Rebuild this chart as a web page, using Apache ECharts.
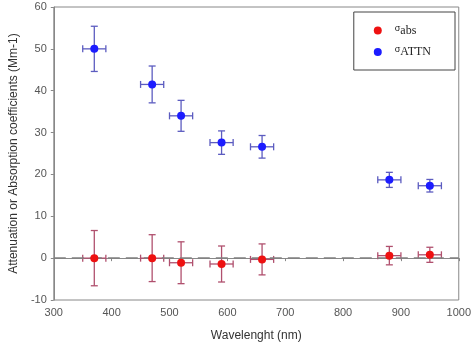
<!DOCTYPE html>
<html>
<head>
<meta charset="utf-8">
<script src="https://cdn.jsdelivr.net/npm/echarts@6/dist/echarts.min.js"></script>
<style>
  html, body { margin: 0; padding: 0; background: #fff; }
  #div-chart { width: 474px; height: 351px; }
</style>
</head>
<body>
<div id="div-chart"></div>
<script>
// wavelengths (nm)
var wavelengths = [370, 470, 520, 590, 660, 880, 950];
var xErr = [20, 20, 20, 20, 20, 20, 20];

// attenuation (blue)
var attn = [50, 41.5, 34, 27.6, 26.6, 18.7, 17.3];
var attnErr = [5.4, 4.4, 3.7, 2.8, 2.7, 1.8, 1.5];

// absorption (red)
var abs = [0, 0, -1.1, -1.4, -0.3, 0.6, 0.8];
var absErr = [6.6, 5.6, 5.0, 4.3, 3.7, 2.2, 1.8];

var myChart = echarts.init(document.getElementById('div-chart'));

function pairs(ys) {
    return wavelengths.map(function (w, i) { return [w, ys[i]]; });
}
function errData(ys, es) {
    return wavelengths.map(function (w, i) { return [w, ys[i], xErr[i], es[i]]; });
}

// draws the cross shaped error bars with caps
function errRender(color) {
    return function (params, api) {
        var x = api.value(0), y = api.value(1), dx = api.value(2), dy = api.value(3);
        var c = api.coord([x, y]);
        var top = api.coord([x, y + dy]), bot = api.coord([x, y - dy]);
        var lft = api.coord([x - dx, y]), rgt = api.coord([x + dx, y]);
        var cap = 3.5;
        var st = { stroke: color, lineWidth: 1.3 };
        var seg = function (x1, y1, x2, y2) {
            return { type: 'line', shape: { x1: x1, y1: y1, x2: x2, y2: y2 }, style: st };
        };
        return {
            type: 'group',
            children: [
                seg(c[0], top[1], c[0], bot[1]),
                seg(c[0] - cap, top[1], c[0] + cap, top[1]),
                seg(c[0] - cap, bot[1], c[0] + cap, bot[1]),
                seg(lft[0], c[1], rgt[0], c[1]),
                seg(lft[0], c[1] - cap, lft[0], c[1] + cap),
                seg(rgt[0], c[1] - cap, rgt[0], c[1] + cap)
            ]
        };
    };
}

var font = 'Liberation Sans, Arial, sans-serif';

option = {
    animation: false,
    backgroundColor: '#fff',
    grid: {
        left: 52, top: 7, right: 13, bottom: 51,
        show: true, borderColor: '#888', borderWidth: 1
    },
    legend: {
        data: ['abs', 'ATTN'],
        orient: 'vertical',
        right: 19, top: 12,
        borderColor: '#444', borderWidth: 1,
        padding: [12, 24, 12, 20],
        itemGap: 9,
        icon: 'circle',
        itemWidth: 8, itemHeight: 8,
        formatter: function (n) { return '{s|σ}{t|' + n + '}'; },
        textStyle: {
            fontFamily: font,
            color: '#222',
            rich: {
                s: { fontSize: 9, verticalAlign: 'top', padding: [0, 0, 4, 8], fontFamily: font, color: '#222' },
                t: { fontSize: 12, fontFamily: 'Liberation Serif, serif', color: '#222' }
            }
        }
    },
    xAxis: {
        type: 'value',
        min: 300, max: 1000, interval: 100,
        name: 'Wavelenght (nm)',
        nameLocation: 'middle',
        nameGap: 30,
        nameTextStyle: { fontFamily: font, fontSize: 12, color: '#333' },
        splitLine: { show: false },
        axisLine: { lineStyle: { color: '#888' } },
        axisTick: { length: 3, lineStyle: { color: '#888' } },
        axisLabel: {
            fontFamily: font, fontSize: 11, color: '#555', margin: 7,
            formatter: function (v) { return String(v); }
        }
    },
    yAxis: {
        type: 'value',
        min: -10, max: 60, interval: 10,
        name: 'Attenuation or Absorption coefficients (Mm-1)',
        nameLocation: 'middle',
        nameGap: 31,
        nameTextStyle: { fontFamily: font, fontSize: 12, color: '#333' },
        splitLine: { show: false },
        axisLine: { lineStyle: { color: '#888' } },
        axisTick: { length: 3, lineStyle: { color: '#888' } },
        axisLabel: { fontFamily: font, fontSize: 11, color: '#555', margin: 7 }
    },
    series: [
        {
            name: 'absErr',
            type: 'custom',
            renderItem: errRender('#b0506e'),
            data: errData(abs, absErr),
            z: 3,
            markLine: {
                silent: true,
                symbol: 'none',
                label: { show: false },
                lineStyle: { color: '#808080', type: [12, 6], width: 1.5 },
                data: [{ yAxis: 0 }]
            }
        },
        {
            name: 'attnErr',
            type: 'custom',
            renderItem: errRender('#5c5cc0'),
            data: errData(attn, attnErr),
            z: 3
        },
        {
            name: 'abs',
            type: 'scatter',
            symbolSize: 8,
            itemStyle: { color: '#ee1111', opacity: 1 },
            data: pairs(abs),
            z: 5
        },
        {
            name: 'ATTN',
            type: 'scatter',
            symbolSize: 8,
            itemStyle: { color: '#1c1cff', opacity: 1 },
            data: pairs(attn),
            z: 5
        }
    ]
};

myChart.setOption(option);
</script>
</body>
</html>
